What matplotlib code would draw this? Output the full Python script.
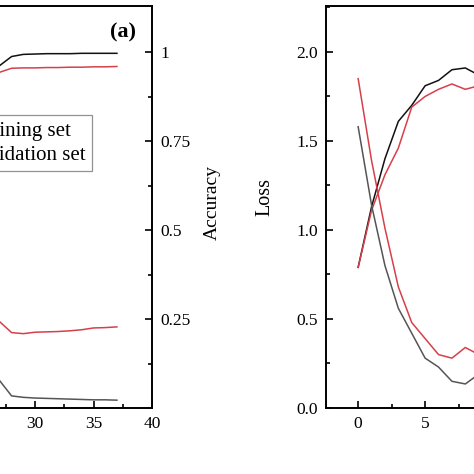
import matplotlib
matplotlib.use("Agg")
import matplotlib.pyplot as plt
from matplotlib.ticker import AutoMinorLocator, FixedLocator

plt.rcParams['font.family'] = ['Liberation Serif', 'DejaVu Serif']

# (a) tail of the accuracy / loss curves, epochs 27..37
epochs_a = [27, 28, 29, 30, 31, 32, 33, 34, 35, 36, 37]
train_acc = [0.963, 0.988, 0.994, 0.995, 0.996, 0.996, 0.996, 0.997, 0.997, 0.997, 0.997]
val_acc = [0.944, 0.955, 0.956, 0.956, 0.957, 0.957, 0.958, 0.958, 0.959, 0.959, 0.960]
val_loss_a = [0.242, 0.212, 0.209, 0.213, 0.214, 0.215, 0.217, 0.220, 0.225, 0.226, 0.228]
train_loss_a = [0.076, 0.034, 0.030, 0.028, 0.027, 0.026, 0.025, 0.024, 0.023, 0.023, 0.022]

# (b) first epochs
epochs_b = [0, 1, 2, 3, 4, 5, 6, 7, 8, 9]
train_up = [0.79, 1.13, 1.40, 1.61, 1.70, 1.81, 1.84, 1.90, 1.91, 1.87]
val_up = [0.79, 1.11, 1.31, 1.46, 1.69, 1.75, 1.79, 1.82, 1.79, 1.81]
val_down = [1.85, 1.39, 1.01, 0.68, 0.48, 0.39, 0.30, 0.28, 0.34, 0.30]
train_down = [1.58, 1.14, 0.80, 0.56, 0.42, 0.28, 0.23, 0.15, 0.135, 0.19]

x_ticks = [0, 5, 10, 15, 20, 25, 30, 35, 40]

RED = '#d6404a'
BLACK = '#111111'
GRAY = '#555555'

fig = plt.figure(figsize=(4.74, 4.74), dpi=100)

def style(ax):
    for s in ax.spines.values():
        s.set_linewidth(1.4)
    ax.tick_params(which='both', direction='in', width=1.2, labelsize=12.5, pad=6)
    ax.tick_params(which='major', length=5)
    ax.tick_params(which='minor', length=3)

# left panel (mostly cropped)
ax1 = fig.add_axes([-316 / 474, 66 / 474, 468 / 474, 402 / 474])
ax1.plot(epochs_a, train_acc, color=BLACK, lw=1.1, label='Training set')
ax1.plot(epochs_a, val_acc, color=RED, lw=1.1, label='Validation set')
ax1.plot(epochs_a, val_loss_a, color=RED, lw=1.1)
ax1.plot(epochs_a, train_loss_a, color=GRAY, lw=1.1)
ax1.set_xlim(0, 40)
ax1.set_ylim(0, 1.13)
ax1.set_xticks(x_ticks)
ax1.xaxis.set_minor_locator(AutoMinorLocator(2))
ax1.yaxis.tick_right()
ax1.set_yticks([0.25, 0.5, 0.75, 1])
ax1.set_yticklabels(['0.25', '0.5', '0.75', '1'])
ax1.yaxis.set_minor_locator(FixedLocator([0.125, 0.375, 0.625, 0.875]))
style(ax1)
ax1.text(1.128, 0.51, 'Accuracy', rotation=90, ha='center', va='center',
         fontsize=14, transform=ax1.transAxes)
ax1.text(0.938, 0.935, '(a)', fontweight='bold', ha='center', va='center',
         fontsize=16, transform=ax1.transAxes)
leg = ax1.legend(loc='upper right', bbox_to_anchor=(0.872, 0.729), fontsize=15,
                 fancybox=False, edgecolor='#777777', borderpad=0.3,
                 labelspacing=0.2, borderaxespad=0, handlelength=2)
leg.get_frame().set_linewidth(0.9)

# right panel
ax2 = fig.add_axes([326 / 474, 66 / 474, 568 / 474, 402 / 474])
ax2.plot(epochs_b, train_up, color=BLACK, lw=1.1)
ax2.plot(epochs_b, val_up, color=RED, lw=1.1)
ax2.plot(epochs_b, val_down, color=RED, lw=1.1)
ax2.plot(epochs_b, train_down, color=GRAY, lw=1.1)
ax2.set_xlim(-2.4, 40)
ax2.set_ylim(0, 2.258)
ax2.set_xticks(x_ticks)
ax2.xaxis.set_minor_locator(AutoMinorLocator(2))
ax2.set_yticks([0.0, 0.5, 1.0, 1.5, 2.0])
ax2.set_yticklabels(['0.0', '0.5', '1.0', '1.5', '2.0'])
ax2.yaxis.set_minor_locator(AutoMinorLocator(2))
style(ax2)
ax2.text(-0.107, 0.525, 'Loss', rotation=90, ha='center', va='center',
         fontsize=14.5, transform=ax2.transAxes)

fig.savefig('out.png', dpi=100)
